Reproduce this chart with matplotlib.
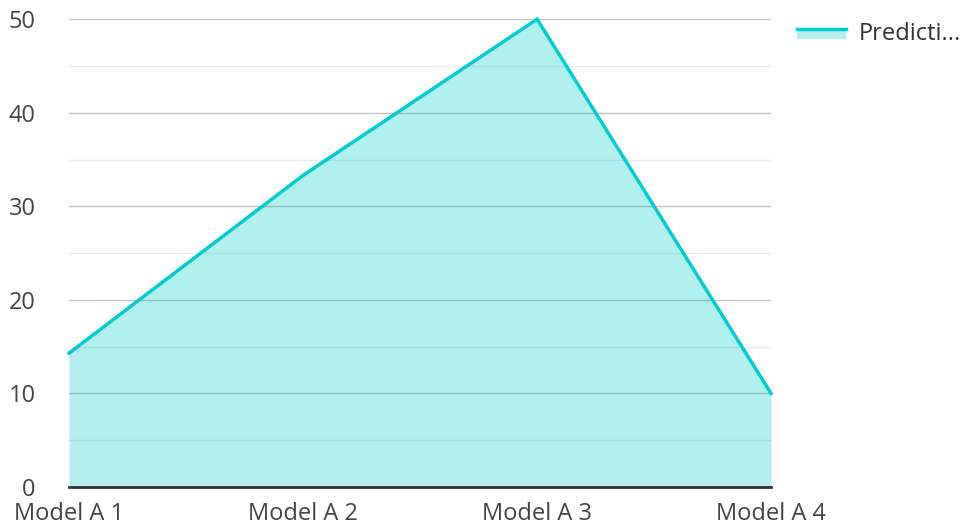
import matplotlib.pyplot as plt
from matplotlib.lines import Line2D
from matplotlib.patches import Rectangle
from matplotlib.legend_handler import HandlerBase

plt.rcParams['font.family'] = ['Open Sans', 'DejaVu Sans']

models = ["Model A 1", "Model A 2", "Model A 3", "Model A 4"]
predictions = [14.3, 33.3, 50, 10]
series_name = "Predicti..."

line_color = '#00CED1'
fill_color = '#b2efef'


# legend key: line on top, filled area below it
class AreaHandler(HandlerBase):
    def create_artists(self, legend, orig_handle, xdescent, ydescent,
                       width, height, fontsize, trans):
        top = height * 0.75
        rect = Rectangle((-xdescent, -ydescent), width, top, facecolor=fill_color,
                         edgecolor='none', transform=trans)
        line = Line2D([-xdescent, -xdescent + width], [top, top],
                      color=line_color, linewidth=2.5, transform=trans)
        return [rect, line]


fig = plt.figure(figsize=(9.63, 5.28), dpi=100)
ax = fig.add_axes([0.0717, 0.0777, 0.729, 0.886])

x = list(range(len(models)))
ax.fill_between(x, predictions, 0, color=fill_color, linewidth=0, zorder=1)
ax.plot(x, predictions, color=line_color, linewidth=2.5, zorder=3,
        solid_joinstyle='miter', clip_on=False)

# grid lines: major every 10, minor every 5
for v in range(10, 51, 10):
    ax.axhline(v, color='#555555', alpha=0.35, linewidth=1, zorder=2)
for v in range(5, 50, 10):
    ax.axhline(v, color='#777777', alpha=0.15, linewidth=1, zorder=2)

ax.set_xlim(0, 3)
ax.set_ylim(0, 50)
ax.set_yticks(range(0, 51, 10))
ax.set_xticks(x)
ax.set_xticklabels(models)
ax.tick_params(axis='both', length=0, labelsize=17, colors='#444444')
ax.tick_params(axis='x', pad=11)
ax.tick_params(axis='y', pad=24)

for side in ['top', 'right', 'left']:
    ax.spines[side].set_visible(False)
ax.spines['bottom'].set_color('#333333')
ax.spines['bottom'].set_linewidth(2)
ax.spines['bottom'].set_zorder(4)

fig.legend(['area'], [series_name], handler_map={str: AreaHandler()},
           loc='upper left', bbox_to_anchor=(0.806, 0.998), frameon=False,
           fontsize=17, handlelength=2.05, handleheight=0.6, handletextpad=0.55,
           labelcolor='#333333')

fig.savefig('out.png', dpi=100)
